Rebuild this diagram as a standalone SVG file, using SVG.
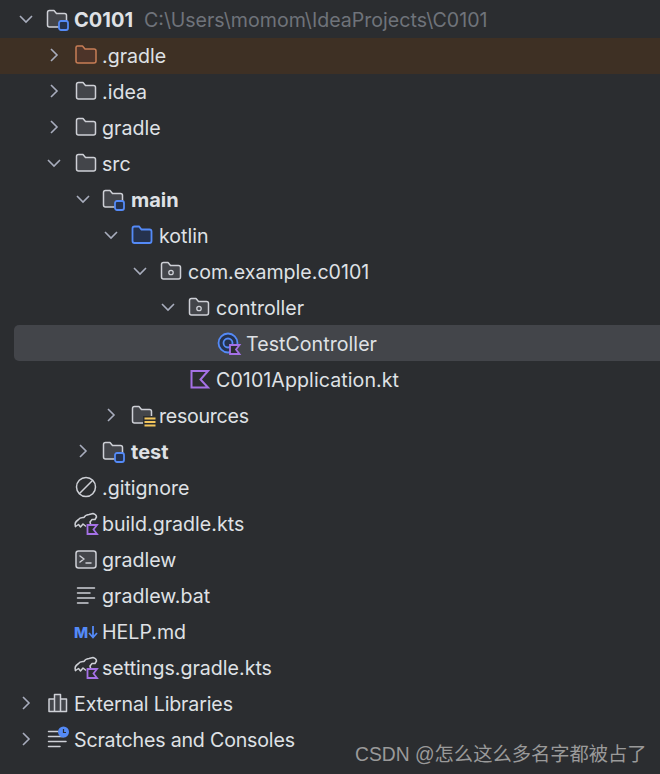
<svg xmlns="http://www.w3.org/2000/svg" width="660" height="774" viewBox="0 0 660 774">
<style>
text{font-family:Inter,"Noto Sans",sans-serif;font-size:19.6px;fill:#dfe1e5}
.b{font-weight:700;font-size:20px}
.g{fill:#6f737a}
.wm{font-family:"Liberation Sans","Noto Sans CJK SC",sans-serif;font-size:19.3px;fill:#9a9a9a}
.ch{fill:none;stroke:#a8adbd;stroke-width:1.6}
.ic{fill:none;stroke:#ced0d6;stroke-width:1.5;stroke-linejoin:round;stroke-linecap:round}
.fo{fill:#43454a;stroke:#ced0d6;stroke-width:1.5;stroke-linejoin:round}
.bl{fill:#25324d;stroke:#548af7;stroke-width:1.8}
.ko{fill:none;stroke:#a571e6;stroke-width:1.6;stroke-linejoin:miter}
.kf{fill:#2b2d30;stroke:#a571e6;stroke-width:1.8;stroke-linejoin:miter}
</style>
<defs>
<path id="r" class="ch" d="M-3-6 3 0-3 6"/>
<path id="d" class="ch" d="M-6-3 0 3 6-3"/>
<path id="fp" d="M-9.500-6.500Q-9.500-8.500-7.500-8.500H-3L-.5-5.500H7.500Q9.500-5.500 9.500-3.500V6Q9.500 8 7.500 8H-7.500Q-9.500 8-9.500 6Z"/>
<g id="f"><use href="#fp" class="fo"/></g>
<g id="fm"><use href="#fp" class="fo"/><rect x="2" y="2" width="9" height="9" rx="2" class="bl"/></g>
<g id="fk"><use href="#fp" class="fo"/><circle cx="0" cy="1.500" r="2.200" fill="none" stroke="#ced0d6" stroke-width="1.300"/></g>
<g id="gr"><path class="ic" d="M-10.500 3.500Q-12-.5-8-3-6-6-2-5.500-1-8 3-8.500L7-9.500Q10.500-8.500 10.500-6L9-3.500 6-3.500 4-1 5 3"/><path class="ic" d="M-10.500 3.500-7.500 1.500-5.500 4-3 1-.5 3"/><path class="kf" d="M1.500 2H11L7.500 6.500 11 11H1.500Z"/></g>
</defs>
<rect width="660" height="774" fill="#2b2d30"/>
<rect x="0" y="38" width="660" height="36" fill="#3e3024"/>
<rect x="14" y="325" width="656" height="36" rx="5" fill="#43454a"/>

<g id="connectors">
<use href="#d" x="26" y="19"/>
<use href="#r" x="54" y="55"/>
<use href="#r" x="54" y="91"/>
<use href="#r" x="54" y="127"/>
<use href="#d" x="54" y="163"/>
<use href="#d" x="83" y="199"/>
<use href="#d" x="111" y="235"/>
<use href="#d" x="140" y="271"/>
<use href="#d" x="168" y="307"/>
<use href="#r" x="111" y="415"/>
<use href="#r" x="83" y="451"/>
<use href="#r" x="26" y="703"/>
<use href="#r" x="26" y="739"/>
</g>

<g id="n-c0101"><use href="#fm" x="57" y="19"/><text x="74" y="27" class="b">C0101</text><text x="144" y="27" class="g">C:\Users\momom\IdeaProjects\C0101</text></g>
<g id="n-gradle-dot"><path d="M76 47.500Q76 46 77.500 46H82.500L85 49H94Q96 49 96 51V61Q96 63 94 63H78Q76 63 76 61Z" fill="#4d3429" stroke="#c77d55" stroke-width="1.500" stroke-linejoin="round"/><text x="102" y="63">.gradle</text></g>
<g id="n-idea"><use href="#f" x="86" y="91"/><text x="102" y="99">.idea</text></g>
<g id="n-gradle"><use href="#f" x="86" y="127"/><text x="102" y="135">gradle</text></g>
<g id="n-src"><use href="#f" x="86" y="163"/><text x="102" y="171">src</text></g>
<g id="n-main"><use href="#fm" x="113" y="199"/><text x="131" y="207" class="b">main</text></g>
<g id="n-kotlin"><use href="#fp" x="142" y="235" class="bl"/><text x="159" y="243">kotlin</text></g>
<g id="n-pkg"><use href="#fk" x="171" y="271"/><text x="188" y="279">com.example.c0101</text></g>
<g id="n-controller"><use href="#fk" x="199" y="307"/><text x="216" y="315">controller</text></g>
<g id="n-testcontroller"><circle cx="228" cy="343" r="9.500" fill="#25324d" stroke="#548af7" stroke-width="1.800"/><circle cx="228" cy="343" r="4.500" fill="none" stroke="#548af7" stroke-width="1.800"/><path class="kf" d="M230 345H239.500L236 349.500 239.500 354H230Z"/><text x="246" y="351" textLength="131">TestController</text></g>
<g id="n-app"><path class="ko" style="stroke-width:2" d="M191.500 371H208L200.500 379.500 208 387.500H191.500Z"/><text x="216" y="387" textLength="183">C0101Application.kt</text></g>
<g id="n-resources"><use href="#fp" x="142" y="415" class="fo"/><rect x="143" y="416" width="14" height="12" fill="#2b2d30"/><path d="M144.500 418.500H155.500M144.500 422H155.500M144.500 425.500H155.500" stroke="#f2c55c" stroke-width="1.800"/><text x="159" y="423" textLength="90">resources</text></g>
<g id="n-test"><use href="#fm" x="113" y="451"/><text x="131" y="459" class="b">test</text></g>
<g id="n-gitignore"><circle cx="86" cy="487" r="9.500" class="ic"/><path class="ic" d="M79.500 493.500 92.500 480.500"/><text x="102" y="495">.gitignore</text></g>
<g id="n-build"><use href="#gr" x="86" y="523"/><text x="102" y="531">build.gradle.kts</text></g>
<g id="n-gradlew"><rect x="76" y="551" width="20" height="17" rx="2.500" class="fo"/><path class="ic" d="M80 556 84 559 80 562M86 563H91"/><text x="102" y="567">gradlew</text></g>
<g id="n-bat"><path class="ic" d="M77.500 588H94.500M77.500 593H90M77.500 598H94.500M77.500 603H88"/><text x="102" y="603">gradlew.bat</text></g>
<g id="n-help"><text x="74" y="638" class="b" style="font-size:15px;fill:#548af7;font-weight:800">M</text><path d="M93 626V637M89 633 93 637.500 97 633" fill="none" stroke="#548af7" stroke-width="1.800"/><text x="102" y="639">HELP.md</text></g>
<g id="n-settings"><use href="#gr" x="86" y="667"/><text x="102" y="675">settings.gradle.kts</text></g>
<g id="n-ext"><path class="fo" d="M49 699H54.500V711.500H49ZM54.500 694.500H60.500V711.500H54.500ZM60.500 699H66.500V711.500H60.500Z"/><text x="74" y="711" textLength="159">External Libraries</text></g>
<g id="n-scratch"><path class="ic" d="M48.500 731.500H58M48.500 736.500H64M48.500 741.500H66M48.500 746.500H60"/><circle cx="63.500" cy="732" r="5.500" fill="#548af7"/><path d="M63.500 729V732.500H66" fill="none" stroke="#2b2d30" stroke-width="1.200"/><text x="74" y="747" textLength="221">Scratches and Consoles</text></g>
<text x="355" y="761" class="wm">CSDN @怎么这么多名字都被占了</text>
</svg>
